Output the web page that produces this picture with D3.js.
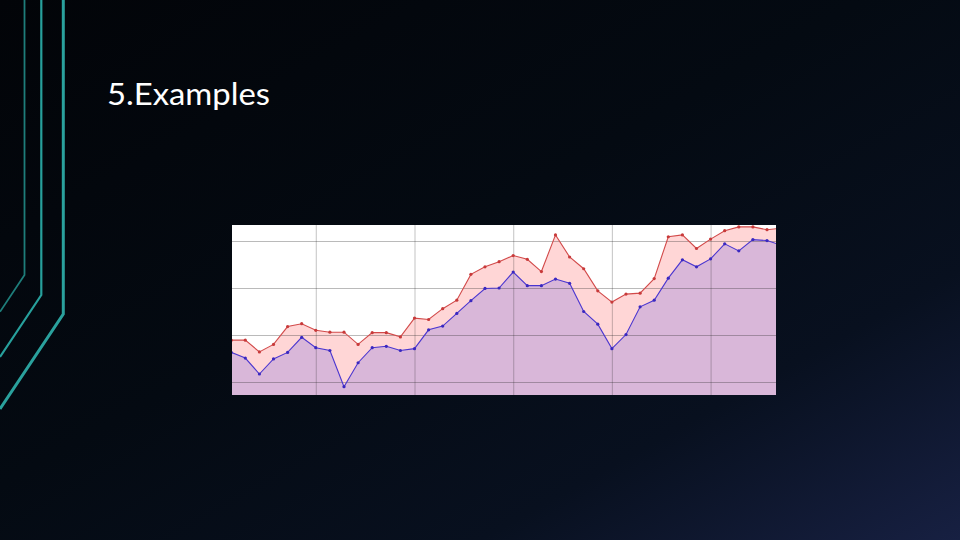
<!DOCTYPE html>
<html>
<head>
<meta charset="utf-8">
<script src="https://cdn.jsdelivr.net/npm/d3@7/dist/d3.min.js"></script>
<style>
  html, body { margin: 0; padding: 0; background: #03070c; }
  svg { display: block; }
</style>
</head>
<body>
<svg id="chart" width="960" height="540"></svg>
<script>
// ---- data ----
const categories = d3.range(40); // sample index
const upperValues = [18.9, 18.9, 16.4, 18.0, 21.8, 22.4, 21.0, 20.6, 20.6, 18.0,
                     20.5, 20.5, 19.6, 23.6, 23.3, 25.6, 27.4, 32.9, 34.5, 35.6,
                     36.9, 36.1, 33.5, 41.3, 36.6, 34.1, 29.4, 27.0, 28.7, 28.9,
                     32.0, 40.9, 41.3, 38.4, 40.4, 42.2, 43.0, 43.0, 42.4, 42.7];
const lowerValues = [16.3, 15.1, 11.7, 14.9, 16.3, 19.5, 17.3, 16.7, 9.0, 14.1,
                     17.3, 17.6, 16.7, 17.1, 21.1, 21.9, 24.6, 27.3, 29.9, 30.0,
                     33.4, 30.5, 30.5, 31.9, 31.0, 25.0, 22.3, 17.1, 20.1, 26.0,
                     27.4, 32.1, 36.0, 34.5, 36.2, 39.4, 37.9, 40.3, 40.1, 39.1];
const yTicks = [10, 20, 30, 40];
const xTicks = [6, 13, 20, 27, 34];
const title = "5.Examples";

// ---- layout ----
const svg = d3.select("#chart");
const W = 960, H = 540;
const frame = {x0: 232, x1: 776, y0: 225, y1: 395};

const defs = svg.append("defs");
const bg = defs.append("linearGradient").attr("id", "bg")
  .attr("x1", "0").attr("y1", "0").attr("x2", "1").attr("y2", "1");
bg.append("stop").attr("offset", "0%").attr("stop-color", "#020408");
bg.append("stop").attr("offset", "45%").attr("stop-color", "#040a12");
bg.append("stop").attr("offset", "75%").attr("stop-color", "#08101f");
bg.append("stop").attr("offset", "100%").attr("stop-color", "#172042");
svg.append("rect").attr("width", W).attr("height", H).attr("fill", "url(#bg)");

// decorative teal lines on the left
const deco = [
  {x: 24.5, yBend: 275, w: 1.8, c: "#1e7d7a"},
  {x: 41.3, yBend: 295, w: 2.2, c: "#27a09c"},
  {x: 63.3, yBend: 314, w: 3.0, c: "#2aa19d"}
];
deco.forEach(d => {
  const slope = 1.5;
  svg.append("path")
    .attr("d", `M${d.x},0 L${d.x},${d.yBend} L0,${d.yBend + d.x * slope}`)
    .attr("fill", "none").attr("stroke", d.c).attr("stroke-width", d.w);
});

// title
svg.append("text")
  .attr("x", 107).attr("y", 105)
  .attr("fill", "#ffffff")
  .attr("font-family", "Lato, 'Open Sans', sans-serif")
  .attr("font-size", 30)
  .attr("textLength", 163)
  .attr("lengthAdjust", "spacingAndGlyphs")
  .text(title);

// chart frame
defs.append("clipPath").attr("id", "clip")
  .append("rect").attr("x", frame.x0).attr("y", frame.y0)
  .attr("width", frame.x1 - frame.x0).attr("height", frame.y1 - frame.y0);

const g = svg.append("g").attr("clip-path", "url(#clip)");
g.append("rect").attr("x", frame.x0).attr("y", frame.y0)
  .attr("width", frame.x1 - frame.x0).attr("height", frame.y1 - frame.y0)
  .attr("fill", "#ffffff");

const x = d3.scaleLinear().domain([0, 39]).range([231.2, 231.2 + 39 * 14.1]);
const y = d3.scaleLinear().domain([10, 40]).range([382, 241]);
const yBottom = frame.y1 + 2;

const areaUpper = d3.area().x((d, i) => x(categories[i])).y0(yBottom).y1(d => y(d));
const areaLower = d3.area().x((d, i) => x(categories[i])).y0(yBottom).y1(d => y(d));
const line = d3.line().x((d, i) => x(categories[i])).y(d => y(d));

g.append("path").datum(upperValues).attr("d", areaUpper).attr("fill", "#ffd6d6");
g.append("path").datum(lowerValues).attr("d", areaLower).attr("fill", "#d9b7d9");

// gridlines drawn over the areas
const yGrid = d3.axisLeft(y).tickValues(yTicks).tickSize(-(frame.x1 - frame.x0)).tickFormat("");
const gy = g.append("g").attr("transform", `translate(${frame.x0},0)`).call(yGrid);
gy.select(".domain").remove();
gy.selectAll(".tick line").attr("stroke", "rgba(40,40,40,0.32)").attr("stroke-width", 1.2);

const xGrid = d3.axisBottom(x).tickValues(xTicks).tickSize(-(frame.y1 - frame.y0)).tickFormat("");
const gx = g.append("g").attr("transform", `translate(0,${frame.y1})`).call(xGrid);
gx.select(".domain").remove();
gx.selectAll(".tick line").attr("stroke", "rgba(40,40,40,0.25)").attr("stroke-width", 1.1);

// lines and dots
g.append("path").datum(upperValues).attr("d", line)
  .attr("fill", "none").attr("stroke", "#d24a4a").attr("stroke-width", 1.1);
g.append("path").datum(lowerValues).attr("d", line)
  .attr("fill", "none").attr("stroke", "#4a36d0").attr("stroke-width", 1.1);

g.selectAll(".dotU").data(upperValues).enter().append("circle")
  .attr("cx", (d, i) => x(categories[i])).attr("cy", d => y(d)).attr("r", 1.6)
  .attr("fill", "#c83a3a");
g.selectAll(".dotL").data(lowerValues).enter().append("circle")
  .attr("cx", (d, i) => x(categories[i])).attr("cy", d => y(d)).attr("r", 1.6)
  .attr("fill", "#3a28c0");
</script>
</body>
</html>
